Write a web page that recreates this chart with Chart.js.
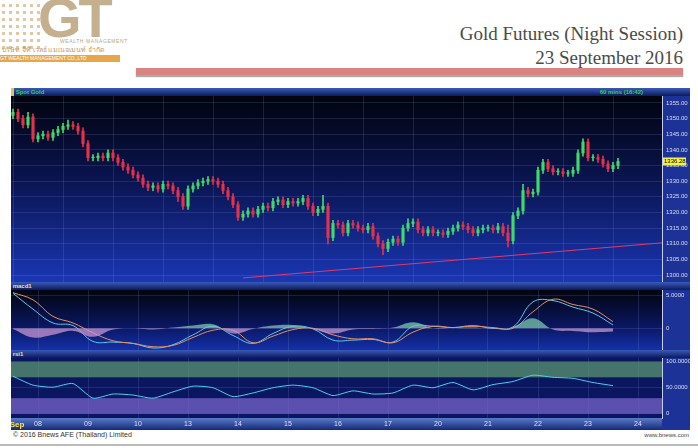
<!DOCTYPE html>
<html><head><meta charset="utf-8">
<script src="https://cdn.jsdelivr.net/npm/chart.js@4"></script>
<style>
body{margin:0;width:698px;height:448px;background:#fff;position:relative;overflow:hidden;font-family:"Liberation Sans",Arial,sans-serif}
.abs{position:absolute}
.panel{position:absolute;left:11px;width:679px;background:
 linear-gradient(to right,rgba(0,0,0,0) 651px,#1d3296 651px),
 linear-gradient(to bottom,#02040e 0%,#0a1450 45%,#1a36b4 100%)}
.strip{position:absolute;left:11px;width:679px;height:8px;background:linear-gradient(to bottom,#3a5ab8,#0c1a5a);font-size:6px;line-height:8px;font-weight:bold}
canvas{position:absolute;left:0;top:0}
</style></head><body>
<!-- header -->
<div class="abs" style="left:0;top:2px;width:40px;height:50px;
 background-image:radial-gradient(circle,#d9b98c 1.6px,transparent 1.9px);background-size:7px 7px;opacity:.8"></div>
<div class="abs" style="left:38px;top:-10px;font:bold 56px 'Liberation Sans';color:#c4b08e;letter-spacing:-3px;line-height:56px">GT</div>
<div class="abs" style="left:60px;top:38px;font:5px 'Liberation Sans';color:#b9a582;letter-spacing:.6px">WEALTH MANAGEMENT</div>
<div class="abs" style="left:2px;top:44px;font:7px 'Noto Sans';color:#c09860">บริษัท จีที เวลธ์ แมเนจเมนท์ จำกัด</div>
<div class="abs" style="left:0;top:55px;width:120px;height:7px;background:#e7a64a;color:#fff;font:5px 'Liberation Sans';line-height:7px">GT WEALTH MANAGEMENT CO.,LTD</div>
<div class="abs" style="right:15px;top:22px;font:19px 'Liberation Serif',serif;color:#4a4a4a;text-align:right;line-height:24px">Gold Futures (Night Session)<br>23 September 2016</div>
<div class="abs" style="left:136px;top:68px;width:547px;height:7px;background:#d98383;box-shadow:0 2px 1px #aaa"></div>

<div class="strip" style="top:88px;color:#38d04a"><span style="display:inline-block;width:3px;height:8px;background:#e0c060;vertical-align:top"></span> Spot Gold<span style="position:absolute;right:47px">60 mins (16:42)</span></div>
<div class="panel" style="top:96px;height:186px"><canvas id="c1"></canvas></div>
<div class="strip" style="top:282px;color:#e8e0a0">&nbsp;macd1</div>
<div class="panel" style="top:290px;height:60px;background:linear-gradient(to right,rgba(0,0,0,0) 651px,#1d3296 651px),linear-gradient(to bottom,#02040e,#0a1660 60%,#1530a8)"><canvas id="c2"></canvas></div>
<div class="strip" style="top:350px;color:#e8e0a0">&nbsp;rsi1</div>
<div class="panel" style="top:358px;height:72px;background:linear-gradient(to right,rgba(0,0,0,0) 651px,#1d3296 651px),linear-gradient(to bottom,#0a1660 0px,#0a1660 60px,#5a7ac8 60px,#14287a 72px)"><canvas id="c3"></canvas></div>
<div class="abs" style="left:13px;top:431px;font:7px 'Liberation Sans';color:#333">© 2016 Bnews AFE (Thailand) Limited</div>
<div class="abs" style="right:9px;top:432px;font:6px 'Liberation Sans';color:#444">www.bnews.com</div>
<div class="abs" style="left:0;top:444px;width:698px;height:2px;background:#bbb"></div>

<script>
// ---------- DATA ----------
const dayLabels = ['Sep','08','09','10','13','14','15','16','17','20','21','22','23','24'];
const dayTicks  = [-0.42,0,1,2,3,4,5,6,7,8,9,10,11,12];
const barStart = -0.5, barStep = 0.1; // hourly-ish bars, in trading days
const closes = [1352,1350,1348,1350.5,1343.5,1344.5,1345,1344,1345.5,1346.5,1347.5,1348,1347.5,1346,1342,1337.5,1337.5,1338,1337.5,1339,
1337.5,1336,1334.5,1333.5,1332,1331,1329,1328,1328.5,1327.5,1329,1328.5,1327,1325,1322,1327.5,1328.5,1329.5,1330,1330.5,
1330,1329,1327,1325,1322.5,1318.5,1319.5,1320.5,1319.5,1321,1322,1321.5,1323.5,1324,1322.5,1323.5,1323,1323.5,1324.5,1322,
1320,1321,1322,1312,1316.5,1316,1313.5,1316.5,1316,1315,1314.5,1315.5,1312.5,1310,1308.5,1310.5,1311.5,1310.5,1315,1316.5,
1317,1314.5,1313.5,1314.5,1313.5,1313.5,1313,1314,1315,1316,1315.5,1314.5,1313.5,1314.5,1315,1315,1314.5,1315.5,1313.5,1311,
1319,1320.5,1327,1326,1326.5,1333.5,1336,1334,1333,1333,1332.5,1332.5,1333.5,1339,1342.5,1337.5,1337.5,1337,1335.5,1334,1335,1336.28];
const firstOpen = 1351;
const wickUp = [1,1,1,1.5,1,1,1,1,1,1,1,1.5,1,1,1,1,1,1,1,1,1,1,1,1,1,1,1,1,1,1,1,1,1,1,1,1,1,1,1,1,1,1,1,1,1,1,1,1,1,1,
1,1,1,1,1,1,1,1,1,1,1,1,3.5,1,1,1,1,1,1,1,1,1,1,1,1,1,1,1,1,1.5,1,1,1,1,1,1,1,1,1,1,1,1,1,1,1,1,1,1,1,2.5,
1,1,2,1,1,1,1,1,1,1,1,1,1,1,1,1,1,1,1,1,1,1];
const wickDn = [1,1,1,1,1,1,1,1,1,1,1,1,1,1,1,1,1,1,1,1,1,1,1,1,1,1,1,1,1,1,1,1,1,1.5,1,1,1,1,1,1,1,1,1,1,1,1,1,1,1,1,
1,1,1,1,1,1,1,1,1,1,1,1,1,2,1,1,1,1,1,1,1,1,1,1,2,1,1,1,1,1,1,1,1,1,1,1,1,1,1,1,1,1,1,1,1,1,1,1,1,2,
1,1,1,1,1,1,1,1,1,1,1,1,1,1,1,1,1,1,1,1,1,1];
const trendT = [4.1,12.48], trendV = [1299.1,1310.3];
const lastPrice = 1336.28;
const indStart = -0.5, indStep = 0.4;
const macdV   = [5.3,2.9,0.8,0.4,-2.0,-2.1,-2.3,-3.0,-2.5,-1.0,0.3,-1.1,-2.3,-0.8,0.3,-0.1,-1.8,-1.8,-1.7,-2.1,0.3,0.3,0.1,0.4,0.0,0.2,4.0,4.2,3.2,2.3,0.5];
const signalV = [5.4,4.3,1.8,0.8,-0.7,-1.9,-2.3,-2.8,-2.6,-1.4,-0.3,-0.3,-2.2,-1.2,-0.2,0.0,-1.0,-1.6,-1.6,-2.2,-0.6,0.3,0.1,0.3,0.1,0.0,2.5,4.4,3.6,2.9,1.0];
const rsiV = [72,55,51,58,30,38,36,30,42,53,50,33,40,50,55,50,35,44,38,40,55,50,60,46,56,62,74,70,68,60,54];

// ---------- BUILD ----------
const XMIN=-0.54, XMAX=12.48, AXW=28;
const gridC='rgba(150,170,230,0.16)';
const candT = closes.map((_,i)=>+(barStart+i*barStep).toFixed(2));
const opens = closes.map((c,i)=>i===0?firstOpen:closes[i-1]);
const bodies=[], wicks=[], cols=[];
closes.forEach((c,i)=>{const o=opens[i];
 bodies.push({x:candT[i],y:[o,c===o?c+0.2:c]});
 wicks.push({x:candT[i],y:[Math.min(o,c)-wickDn[i],Math.max(o,c)+wickUp[i]]});
 cols.push(c>=o?'#3ddc6a':'#e8304a');});
const xAxis=()=>({type:'linear',min:XMIN,max:XMAX,offset:false,
 afterBuildTicks:s=>{s.ticks=dayTicks.slice(1).map(v=>({value:v}));},
 grid:{color:gridC,drawTicks:false},border:{display:false},ticks:{display:false},
 afterFit:s=>{s.height=0;s.paddingLeft=0;s.paddingRight=0;}});
const yAxis=(min,max,vals,fmt)=>({position:'right',min,max,
 afterBuildTicks:s=>{s.ticks=vals.map(v=>({value:v}));},
 afterFit:s=>{s.width=AXW;s.paddingTop=0;s.paddingBottom=0;},
 grid:{color:gridC,drawTicks:false},border:{color:'#c8d0e8'},
 ticks:{color:'#d8dff0',font:{size:6},padding:4,autoSkip:false,callback:fmt}});
Chart.defaults.animation=false;Chart.defaults.responsive=false;
Chart.defaults.plugins.legend.display=false;Chart.defaults.plugins.tooltip.enabled=false;
function mk(id,w,h){const c=document.getElementById(id);c.width=w;c.height=h;c.style.width=w+'px';c.style.height=h+'px';return c;}
const priceTicks=[];for(let v=1300;v<=1355;v+=5)priceTicks.push(v);
const lastLabel={id:'lastLabel',afterDraw(ch){const y=ch.scales.y.getPixelForValue(lastPrice),x=ch.chartArea.right+1,ctx=ch.ctx;
 ctx.save();ctx.fillStyle='#f4f04a';ctx.fillRect(x,y-4,23,8);ctx.fillStyle='#000';ctx.font='6px Liberation Sans';ctx.textBaseline='middle';ctx.fillText(lastPrice.toFixed(2),x+1,y);ctx.restore();}};
new Chart(mk('c1',679,186),{type:'bar',data:{datasets:[
 {data:wicks,backgroundColor:cols,barThickness:1,grouped:false,order:2},
 {data:bodies,backgroundColor:cols,barThickness:2.5,grouped:false,order:1},
 {type:'line',data:trendT.map((t,i)=>({x:t,y:trendV[i]})),borderColor:'#e03a6a',borderWidth:1,pointRadius:0,order:0}
]},options:{layout:{padding:0},scales:{x:xAxis(),y:yAxis(1297.8,1357.2,priceTicks,v=>v.toFixed(2))}},plugins:[lastLabel]});
const indT=macdV.map((_,i)=>+(indStart+i*indStep).toFixed(2));
const hist=macdV.map((m,i)=>({x:indT[i],y:+(m-signalV[i]).toFixed(2)}));
new Chart(mk('c2',679,60),{type:'line',data:{datasets:[
 {data:hist,borderWidth:0,pointRadius:0,tension:0.4,fill:{target:'origin',above:'rgba(120,200,170,0.75)',below:'rgba(200,150,210,0.75)'}},
 {data:signalV.map((v,i)=>({x:indT[i],y:v})),borderColor:'#e8905a',borderWidth:1,pointRadius:0,tension:0.4},
 {data:macdV.map((v,i)=>({x:indT[i],y:v})),borderColor:'#5ac8f0',borderWidth:1,pointRadius:0,tension:0.4}
]},options:{layout:{padding:0},scales:{x:xAxis(),y:yAxis(-3.3,5.8,[0,5],v=>v===0?'0':v.toFixed(4))}}});
const bands={id:'bands',beforeDatasetsDraw(ch){const a=ch.chartArea,y=ch.scales.y,ctx=ch.ctx;ctx.save();
 ctx.fillStyle='rgba(90,150,110,0.75)';ctx.fillRect(a.left,y.getPixelForValue(100),a.width,y.getPixelForValue(70)-y.getPixelForValue(100));
 ctx.fillStyle='rgba(120,100,200,0.75)';ctx.fillRect(a.left,y.getPixelForValue(30),a.width,y.getPixelForValue(0)-y.getPixelForValue(30));ctx.restore();},
 afterDraw(ch){const x=ch.scales.x,ctx=ch.ctx,yb=ch.chartArea.bottom+6.5;ctx.save();ctx.textBaseline='middle';ctx.textAlign='center';
  dayTicks.forEach((t,i)=>{ctx.fillStyle=i===0?'#ffe24a':'#d8e0f0';ctx.font=i===0?'bold 8px Liberation Sans':'7px Liberation Sans';ctx.fillText(dayLabels[i],x.getPixelForValue(t),yb);});ctx.restore();}};
new Chart(mk('c3',679,72),{type:'line',data:{datasets:[
 {data:rsiV.map((v,i)=>({x:indT[i],y:v})),borderColor:'#4ad0f0',borderWidth:1,pointRadius:0,tension:0.2}
]},options:{layout:{padding:{bottom:12}},scales:{x:xAxis(),y:yAxis(-8,107,[0,50,100],v=>v===0?'0':v.toFixed(4))}},plugins:[bands]});
</script></body></html>
